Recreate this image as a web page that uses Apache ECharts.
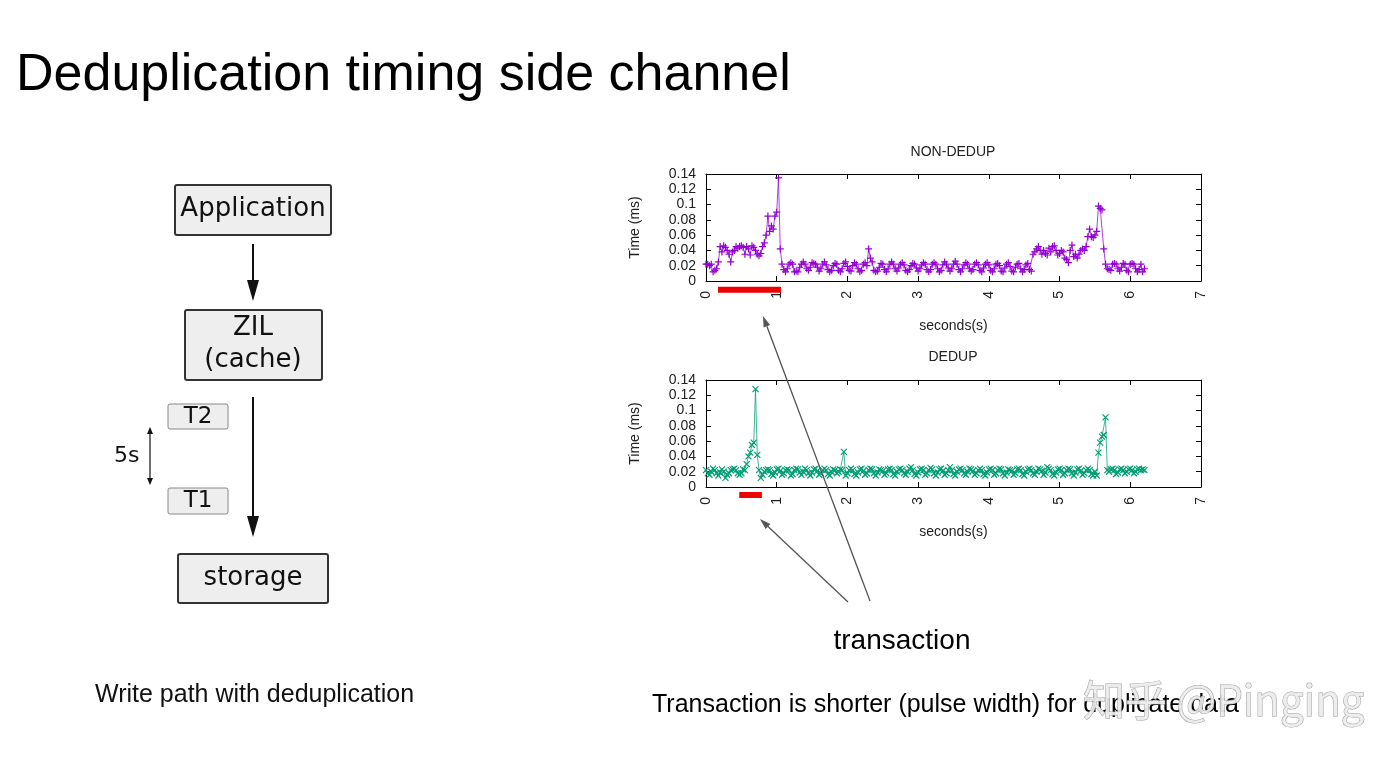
<!DOCTYPE html>
<html><head><meta charset="utf-8">
<script src="https://cdn.jsdelivr.net/npm/echarts@6/dist/echarts.min.js"></script>
<style>html,body{margin:0;padding:0;background:#fff}#c{width:1398px;height:764px}</style>
</head><body><div id="c"></div>
<script>
// sampling interval of both traces (seconds)
const STEP = 0.025;

// NON-DEDUP write latency (ms), one row per second
const nonDedup = [
  0.022,0.022,0.020,0.022,0.012,0.014,0.016,0.025,0.045,0.038,
  0.046,0.044,0.040,0.035,0.025,0.038,0.040,0.045,0.043,0.045,
  0.046,0.044,0.035,0.045,0.042,0.034,0.046,0.044,0.040,0.035,
  0.033,0.036,0.045,0.050,0.060,0.085,0.065,0.072,0.068,0.085,
  0.090,0.135,0.042,0.022,0.015,0.012,0.016,0.022,0.024,0.022,
  0.012,0.013,0.012,0.018,0.022,0.025,0.022,0.016,0.014,0.018,
  0.024,0.023,0.022,0.018,0.013,0.016,0.022,0.025,0.021,0.015,
  0.012,0.014,0.020,0.023,0.022,0.014,0.012,0.016,0.023,0.025,
  0.019,0.014,0.013,0.020,0.024,0.022,0.016,0.012,0.014,0.022,
  0.024,0.020,0.042,0.030,0.025,0.014,0.012,0.013,0.018,0.023,
  0.022,0.015,0.012,0.016,0.022,0.025,0.022,0.016,0.013,0.017,
  0.022,0.024,0.021,0.014,0.012,0.015,0.020,0.023,0.022,0.017,
  0.013,0.016,0.021,0.024,0.022,0.015,0.012,0.015,0.022,0.024,
  0.022,0.016,0.012,0.014,0.021,0.025,0.022,0.017,0.013,0.016,
  0.022,0.026,0.022,0.015,0.012,0.016,0.021,0.024,0.022,0.016,
  0.013,0.015,0.022,0.024,0.021,0.014,0.012,0.017,0.022,0.024,
  0.021,0.014,0.012,0.016,0.022,0.023,0.020,0.013,0.012,0.017,
  0.022,0.024,0.019,0.013,0.012,0.018,0.022,0.023,0.016,0.012,
  0.015,0.021,0.023,0.015,0.013,0.035,0.038,0.042,0.045,0.040,
  0.035,0.040,0.036,0.034,0.043,0.038,0.045,0.046,0.040,0.034,
  0.036,0.040,0.038,0.030,0.028,0.024,0.040,0.047,0.032,0.035,
  0.030,0.035,0.040,0.042,0.040,0.045,0.058,0.068,0.058,0.057,
  0.060,0.065,0.098,0.095,0.093,0.042,0.022,0.016,0.015,0.014,
  0.022,0.023,0.022,0.016,0.013,0.018,0.023,0.022,0.014,0.012,
  0.022,0.023,0.022,0.016,0.012,0.015,0.022,0.012,0.016
];

// DEDUP write latency (ms), one row per second
const dedup = [
  0.022,0.018,0.016,0.020,0.024,0.022,0.018,0.015,0.019,0.023,
  0.020,0.012,0.016,0.018,0.022,0.023,0.024,0.022,0.018,0.016,
  0.018,0.023,0.022,0.030,0.040,0.045,0.055,0.058,0.128,0.042,
  0.022,0.012,0.016,0.020,0.022,0.023,0.022,0.017,0.015,0.019,
  0.023,0.024,0.021,0.016,0.018,0.022,0.023,0.022,0.015,0.017,
  0.022,0.024,0.023,0.019,0.016,0.020,0.024,0.022,0.018,0.015,
  0.019,0.023,0.024,0.021,0.016,0.018,0.022,0.024,0.022,0.017,
  0.015,0.020,0.023,0.022,0.018,0.020,0.023,0.022,0.046,0.015,
  0.018,0.022,0.024,0.022,0.017,0.015,0.019,0.023,0.024,0.021,
  0.016,0.018,0.022,0.024,0.023,0.018,0.015,0.019,0.023,0.022,
  0.021,0.016,0.018,0.023,0.024,0.022,0.017,0.015,0.020,0.023,
  0.024,0.022,0.018,0.016,0.020,0.024,0.026,0.022,0.017,0.015,
  0.019,0.023,0.024,0.022,0.016,0.018,0.022,0.025,0.023,0.018,
  0.015,0.019,0.023,0.024,0.021,0.016,0.018,0.022,0.026,0.022,
  0.017,0.015,0.020,0.023,0.024,0.022,0.018,0.016,0.020,0.024,
  0.023,0.021,0.016,0.018,0.022,0.024,0.022,0.017,0.015,0.019,
  0.023,0.024,0.022,0.016,0.018,0.022,0.024,0.023,0.018,0.015,
  0.019,0.023,0.022,0.021,0.016,0.018,0.023,0.024,0.022,0.017,
  0.015,0.020,0.023,0.024,0.022,0.018,0.016,0.020,0.024,0.023,
  0.021,0.016,0.019,0.026,0.024,0.022,0.017,0.015,0.019,0.023,
  0.024,0.022,0.016,0.018,0.022,0.024,0.023,0.018,0.015,0.019,
  0.023,0.024,0.021,0.016,0.018,0.022,0.024,0.022,0.017,0.015,
  0.020,0.015,0.045,0.058,0.066,0.068,0.091,0.022,0.020,0.023,
  0.024,0.022,0.017,0.019,0.023,0.024,0.022,0.018,0.020,0.023,
  0.024,0.022,0.018,0.020,0.023,0.024,0.022,0.023,0.022
];

// transaction spans (seconds) marked by red bars
const nonDedupTxn = [0.17, 1.06];
const dedupTxn = [0.47, 0.79];

const chartTitles = ['NON-DEDUP', 'DEDUP'];
const xAxisName = 'seconds(s)';
const yAxisName = 'Time (ms)';

const pts = arr => arr.map((v, i) => [+(i * STEP).toFixed(3), v]);

const chart = echarts.init(document.getElementById('c'), null, {renderer: 'canvas'});
const FONT = 'Liberation Sans, Arial, sans-serif';
const grids = [
  {left: 706, right: 197, top: 174, height: 107},
  {left: 706, right: 197, top: 380, height: 107}
];
const tickStyle = {show: true, inside: true, length: 5, lineStyle: {color: '#000', width: 1}};
const lineStyle = {show: true, onZero: false, lineStyle: {color: '#000', width: 1}};
const xAxes = [], yAxes = [];
[0, 1].forEach(g => {
  xAxes.push({type: 'value', gridIndex: g, min: 0, max: 7, interval: 1, position: 'bottom',
    axisLine: lineStyle, axisTick: tickStyle, splitLine: {show: false},
    axisLabel: {rotate: 90, margin: 10, color: '#222', fontSize: 14, fontFamily: FONT},
    name: xAxisName, nameLocation: 'middle', nameGap: 38,
    nameTextStyle: {color: '#222', fontSize: 14, fontFamily: FONT}});
  xAxes.push({type: 'value', gridIndex: g, min: 0, max: 7, interval: 1, position: 'top',
    axisLine: lineStyle, axisTick: tickStyle, splitLine: {show: false}, axisLabel: {show: false}});
  yAxes.push({type: 'value', gridIndex: g, min: 0, max: 0.14, interval: 0.02, position: 'left',
    axisLine: lineStyle, axisTick: tickStyle, splitLine: {show: false},
    axisLabel: {margin: 10, color: '#222', fontSize: 14, fontFamily: FONT,
      formatter: v => String(+v.toFixed(2))},
    name: yAxisName, nameLocation: 'middle', nameGap: 64,
    nameTextStyle: {color: '#222', fontSize: 14, fontFamily: FONT}});
  yAxes.push({type: 'value', gridIndex: g, min: 0, max: 0.14, interval: 0.02, position: 'right',
    axisLine: lineStyle, axisTick: tickStyle, splitLine: {show: false}, axisLabel: {show: false}});
});

const PURPLE = '#9400D3', GREEN = '#009E73';
const plusSym = 'path://M0,5L10,5M5,0L5,10';
const crossSym = 'path://M0,0L10,10M0,10L10,0';

function arrow(x1, y1, x2, y2, color, lw, hl, hw) {
  const dx = x2 - x1, dy = y2 - y1, L = Math.hypot(dx, dy);
  const ux = dx / L, uy = dy / L, bx = x2 - ux * hl, by = y2 - uy * hl;
  return [
    {type: 'line', z: 100, shape: {x1, y1, x2: bx, y2: by}, style: {stroke: color, lineWidth: lw}},
    {type: 'polygon', z: 100, shape: {points: [[x2, y2], [bx - uy * hw / 2, by + ux * hw / 2], [bx + uy * hw / 2, by - ux * hw / 2]]},
      style: {fill: color}}
  ];
}
function txt(x, y, text, font, opts) {
  return Object.assign({type: 'text', x, y, z: 50, style: Object.assign({text, font, fill: '#111',
    align: 'left', verticalAlign: 'middle', textAlign: 'left', textVerticalAlign: 'middle'}, opts || {})});
}
const C = {align: 'center', textAlign: 'center'};
function box(x, y, w, h, stroke, lw) {
  return {type: 'rect', z: 40, shape: {x, y, width: w, height: h, r: 2},
    style: {fill: '#eeeeee', stroke, lineWidth: lw}};
}
const DJ = "'DejaVu Sans', sans-serif";
const graphics = [
  txt(16, 76, 'Deduplication timing side channel', '52px ' + FONT, {fill: '#000'}),
  box(175, 185, 156, 50, '#333', 2),
  txt(253, 209, 'Application', '26px ' + DJ, C),
  box(185, 310, 137, 70, '#333', 2),
  txt(253, 328, 'ZIL', '26px ' + DJ, C),
  txt(253, 360, '(cache)', '26px ' + DJ, C),
  box(168, 404, 60, 25, '#888', 1),
  txt(198, 417, 'T2', '23px ' + DJ, C),
  box(168, 488, 60, 26, '#888', 1),
  txt(198, 501, 'T1', '23px ' + DJ, C),
  box(178, 554, 150, 49, '#333', 2),
  txt(253, 578, 'storage', '26px ' + DJ, C),
  txt(114, 456, '5s', '22px ' + DJ),
  ...arrow(253, 244, 253, 301, '#111', 2, 21, 12),
  ...arrow(253, 397, 253, 537, '#111', 2, 21, 12),
  ...arrow(150, 456, 150, 427, '#111', 1.2, 7, 6),
  ...arrow(150, 456, 150, 485, '#111', 1.2, 7, 6),
  txt(95, 695, 'Write path with deduplication', '25px ' + FONT),
  txt(953, 152, chartTitles[0], '14px ' + FONT, Object.assign({fill: '#222'}, C)),
  txt(953, 357, chartTitles[1], '14px ' + FONT, Object.assign({fill: '#222'}, C)),
  ...arrow(870, 601, 763, 316, '#555', 1.3, 11, 7),
  ...arrow(848, 602, 760, 519, '#555', 1.3, 11, 7),
  txt(902, 641, 'transaction', '28px ' + FONT, Object.assign({fill: '#000'}, C)),
  txt(652, 705, 'Transaction is shorter (pulse width) for duplicate data', '25px ' + FONT, {fill: '#000'}),
  {type: 'text', x: 1083, y: 700, z: 120, style: {text: '知乎 @Pinging',
    font: "42px 'Noto Sans CJK SC', sans-serif", fill: 'rgba(236,236,236,0.92)', stroke: 'rgba(150,150,150,0.9)', lineWidth: 1,
    shadowColor: 'rgba(0,0,0,0.25)', shadowBlur: 2, shadowOffsetX: 1, shadowOffsetY: 1,
    align: 'left', verticalAlign: 'middle', textAlign: 'left', textVerticalAlign: 'middle'}}
];

chart.setOption({
  animation: false,
  backgroundColor: '#fff',
  grid: grids,
  xAxis: xAxes,
  yAxis: yAxes,
  series: [
    {type: 'line', xAxisIndex: 0, yAxisIndex: 0, data: pts(nonDedup), showAllSymbol: true,
      symbol: plusSym, symbolSize: 7, lineStyle: {color: PURPLE, width: 1, opacity: 0.75},
      itemStyle: {color: PURPLE, borderColor: PURPLE, borderWidth: 1.2}, z: 5},
    {type: 'line', xAxisIndex: 2, yAxisIndex: 2, data: pts(dedup), showAllSymbol: true,
      symbol: crossSym, symbolSize: 6, lineStyle: {color: GREEN, width: 1, opacity: 0.75},
      itemStyle: {color: GREEN, borderColor: GREEN, borderWidth: 1.2}, z: 5},
    {type: 'line', xAxisIndex: 0, yAxisIndex: 0, clip: false, symbol: 'none', silent: true,
      data: [[nonDedupTxn[0], -0.0115], [nonDedupTxn[1], -0.0115]],
      lineStyle: {color: '#ee0000', width: 6, cap: 'butt'}},
    {type: 'line', xAxisIndex: 2, yAxisIndex: 2, clip: false, symbol: 'none', silent: true,
      data: [[dedupTxn[0], -0.0105], [dedupTxn[1], -0.0105]],
      lineStyle: {color: '#ee0000', width: 6, cap: 'butt'}}
  ],
  graphic: graphics
});
</script>
</body></html>
